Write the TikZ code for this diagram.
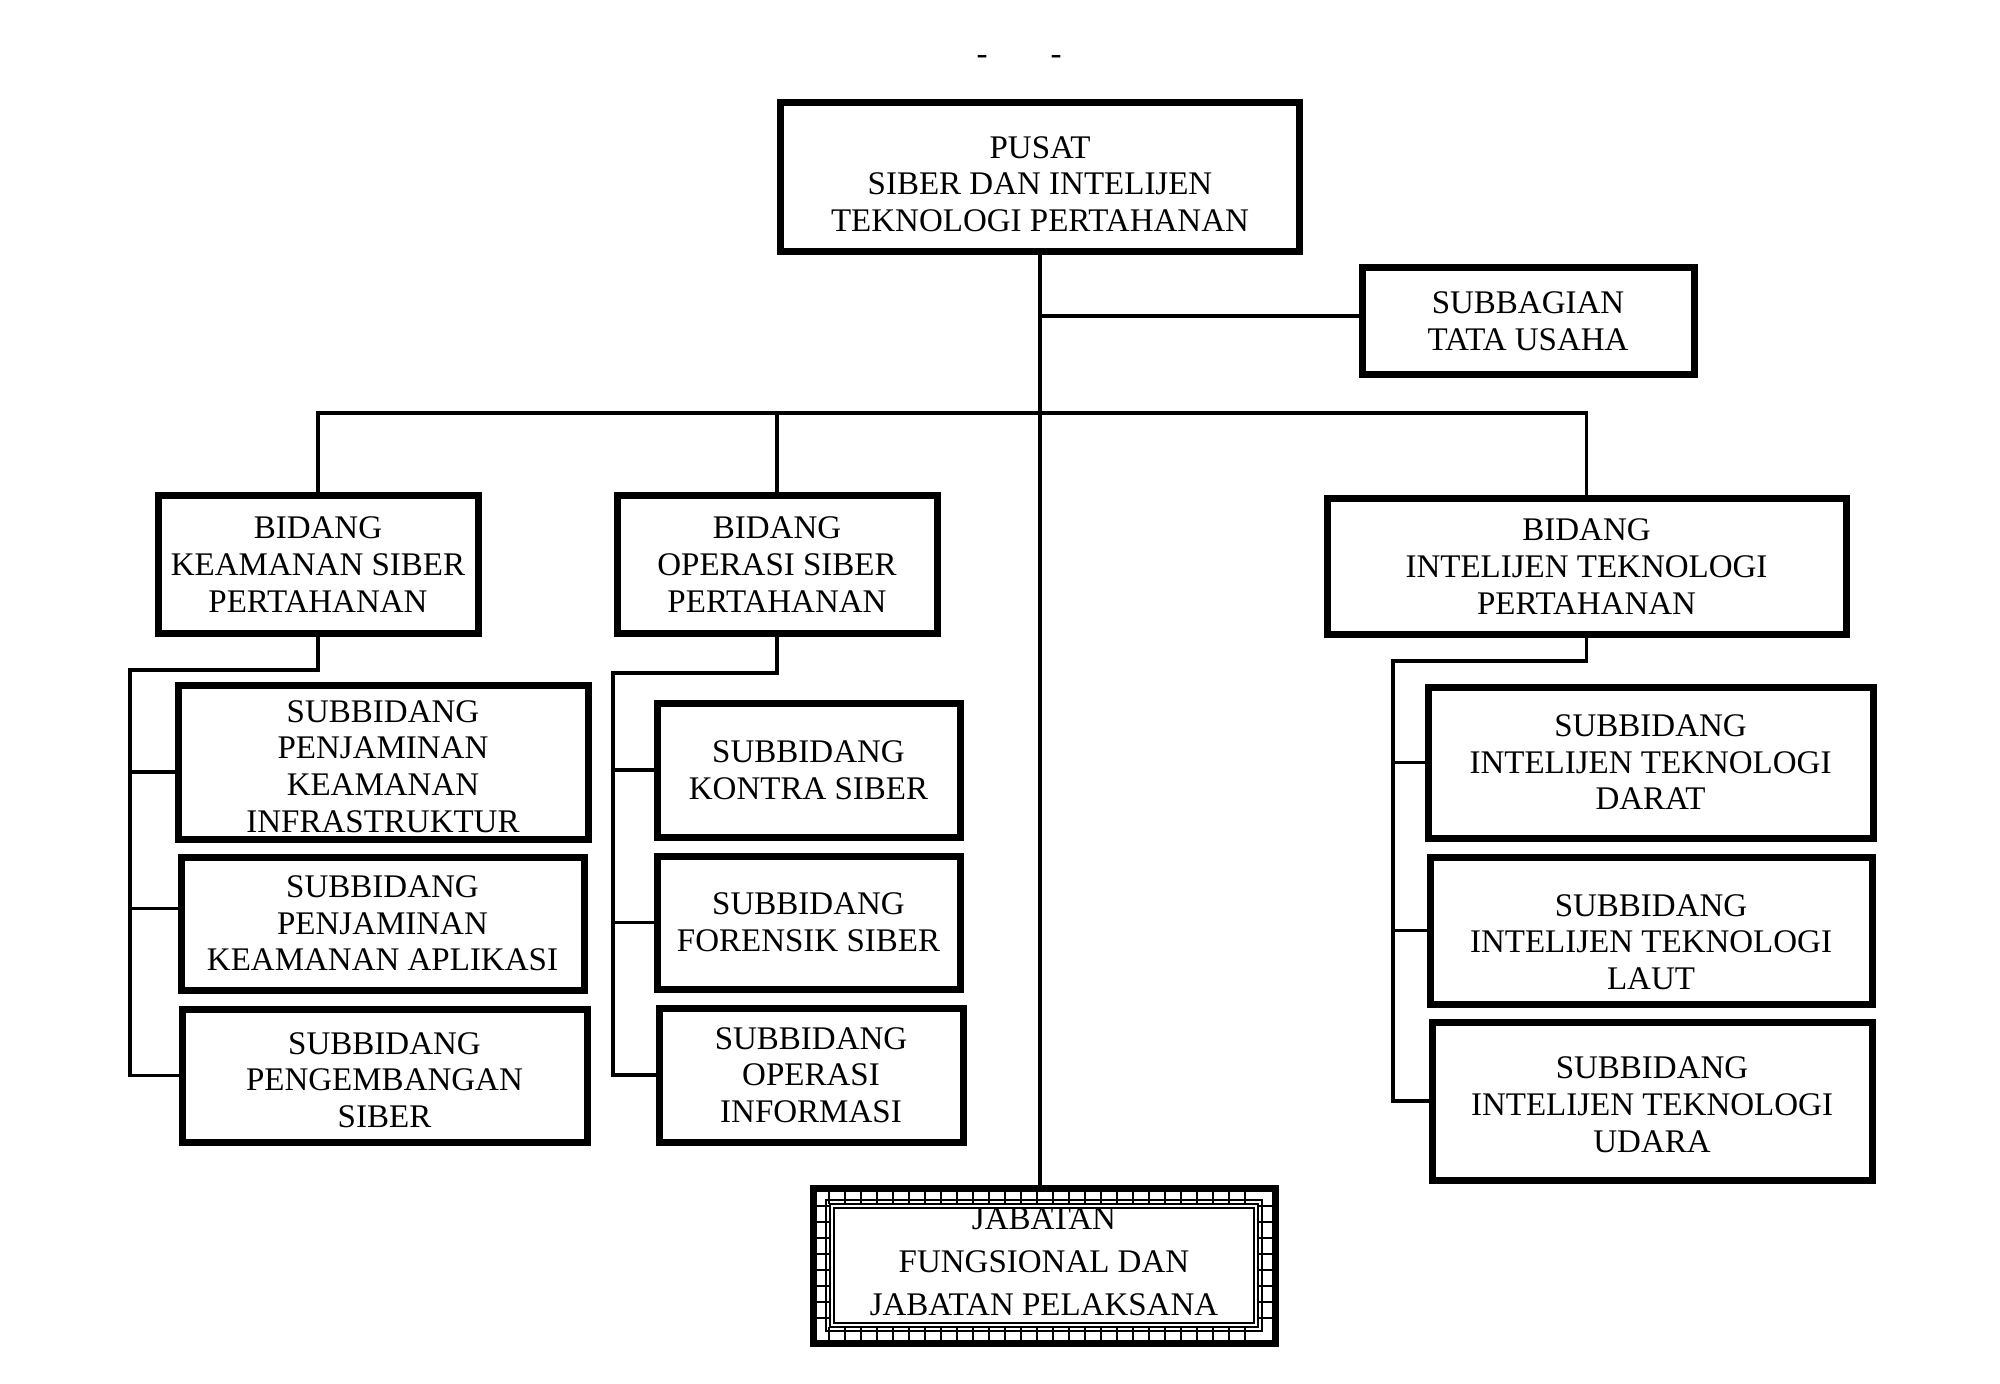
\documentclass[tikz,border=0pt]{standalone}
\usepackage{fontspec}
\setmainfont{Liberation Serif}
\usetikzlibrary{positioning}
\newcommand\toppad[1]{\rule{0pt}{#1}}
\tikzset{
  orgbox/.style={draw, line width=3.5pt, align=center, inner sep=0pt,
                 font=\fontsize{16.5}{18.3}\selectfont},
  raise/.style={execute at end node={\rule[-#1]{0pt}{0pt}}},
  link/.style={line width=1.6pt},
  trunk/.style={line width=2pt},
  thinrule/.style={line width=0.6pt},
}

\begin{document}
\begin{tikzpicture}[x=0.5pt, y=0.5pt]
  \useasboundingbox (0,0) rectangle (2000,-1384);

  % stray marks at the top
  \node[font=\fontsize{16.5}{18}\selectfont, inner sep=0pt] (dashA) at (982,-60) {-};
  \node[font=\fontsize{16.5}{18}\selectfont, inner sep=0pt] (dashB) at (1056,-60) {-};

  % head and staff
  \node[orgbox, minimum width=259.5pt, minimum height=74.5pt] (pusat) at (1040,-177.5)
    {\toppad{17.3pt}PUSAT\\SIBER DAN INTELIJEN\\TEKNOLOGI PERTAHANAN};
  \node[orgbox, minimum width=166pt, minimum height=53.5pt] (tu) at (1528,-321.5)
    {SUBBAGIAN\\TATA USAHA};

  % bidang
  \node[orgbox, minimum width=160pt, minimum height=68.5pt] (bkeam) at (318,-564.5)
    {BIDANG\\KEAMANAN SIBER\\PERTAHANAN};
  \node[orgbox, minimum width=160pt, minimum height=68.5pt] (bops) at (777,-564.5)
    {BIDANG\\OPERASI SIBER\\PERTAHANAN};
  \node[orgbox, minimum width=259.5pt, minimum height=67.5pt] (bintel) at (1586.5,-566.5)
    {BIDANG\\INTELIJEN TEKNOLOGI\\PERTAHANAN};

  % subbidang keamanan
  \node[orgbox, minimum width=205pt, minimum height=77pt] (sk1) at (383,-762)
    {\toppad{15.4pt}SUBBIDANG\\PENJAMINAN\\KEAMANAN\\INFRASTRUKTUR};
  \node[orgbox, minimum width=201.5pt, minimum height=66.5pt] (sk2) at (382.5,-923.5)
    {SUBBIDANG\\PENJAMINAN\\KEAMANAN APLIKASI};
  \node[orgbox, minimum width=202.5pt, minimum height=66.5pt] (sk3) at (384.5,-1075.5)
    {\toppad{15.4pt}SUBBIDANG\\PENGEMBANGAN\\SIBER};

  % subbidang operasi
  \node[orgbox, minimum width=151.5pt, minimum height=67pt] (so1) at (808.5,-770)
    {SUBBIDANG\\KONTRA SIBER};
  \node[orgbox, minimum width=151.5pt, minimum height=66.5pt] (so2) at (808.5,-922.5)
    {SUBBIDANG\\FORENSIK SIBER};
  \node[orgbox, minimum width=152pt, minimum height=67pt] (so3) at (811,-1075)
    {SUBBIDANG\\OPERASI\\INFORMASI};

  % subbidang intelijen
  \node[orgbox, minimum width=222.5pt, minimum height=75.5pt] (si1) at (1650.5,-762.5)
    {SUBBIDANG\\INTELIJEN TEKNOLOGI\\DARAT};
  \node[orgbox, minimum width=221pt, minimum height=73.5pt] (si2) at (1651,-930.5)
    {\toppad{22.4pt}SUBBIDANG\\INTELIJEN TEKNOLOGI\\LAUT};
  \node[orgbox, minimum width=220pt, minimum height=79pt] (si3) at (1652,-1101)
    {\toppad{14.7pt}SUBBIDANG\\INTELIJEN TEKNOLOGI\\UDARA};

  % jabatan fungsional
  \node[orgbox, raise=3.8pt, minimum width=231pt, minimum height=77.5pt,
        font=\fontsize{16.5}{21.5}\selectfont] (jab) at (1044,-1265.5)
    {JABATAN\\FUNGSIONAL DAN\\JABATAN PELAKSANA};
  \draw[thinrule] (826,-1200) rectangle (1262,-1331);
  \draw[thinrule] (830,-1204) rectangle (1258,-1327);
  \draw[thinrule] (834,-1208) rectangle (1254,-1323);
  \foreach \x in {829,845,...,1259} {
    \draw[thinrule] (\x,-1191) -- (\x,-1204);
    \draw[thinrule] (\x,-1327) -- (\x,-1340);
  }
  \foreach \y in {1206,1222,...,1326} {
    \draw[thinrule] (816,-\y) -- (830,-\y);
    \draw[thinrule] (1258,-\y) -- (1272,-\y);
  }

  % connectors
  \coordinate (bus) at (1041,-413);
  \coordinate (kjoint) at (130,-670);
  \coordinate (ojoint) at (613,-673);
  \coordinate (ijoint) at (1393,-661);
  \coordinate (tuin) at ([yshift=2.75pt]tu.west);
  \coordinate (sk1in) at ([yshift=-5pt]sk1.west);
  \coordinate (sk2in) at ([yshift=7.5pt]sk2.west);

  \draw[trunk] (pusat.south) -- (pusat.south |- jab.north);
  \draw[link] (pusat.south |- tuin) -- (tuin);
  \draw[link] (bkeam.north) |- (bus) -| (bintel.north);
  \draw[link] (bops.north) -- (bops.north |- bus);

  \draw[link] (bkeam.south) |- (kjoint) |- (sk3.west);
  \draw[link] (kjoint |- sk1in) -- (sk1in);
  \draw[link] (kjoint |- sk2in) -- (sk2in);

  \draw[link] (bops.south) |- (ojoint) |- (so3.west);
  \draw[link] (ojoint |- so1.west) -- (so1.west);
  \draw[link] (ojoint |- so2.west) -- (so2.west);

  \draw[link] (bintel.south) |- (ijoint) |- (si3.west);
  \draw[link] (ijoint |- si1.west) -- (si1.west);
  \draw[link] (ijoint |- si2.west) -- (si2.west);
\end{tikzpicture}
\end{document}
